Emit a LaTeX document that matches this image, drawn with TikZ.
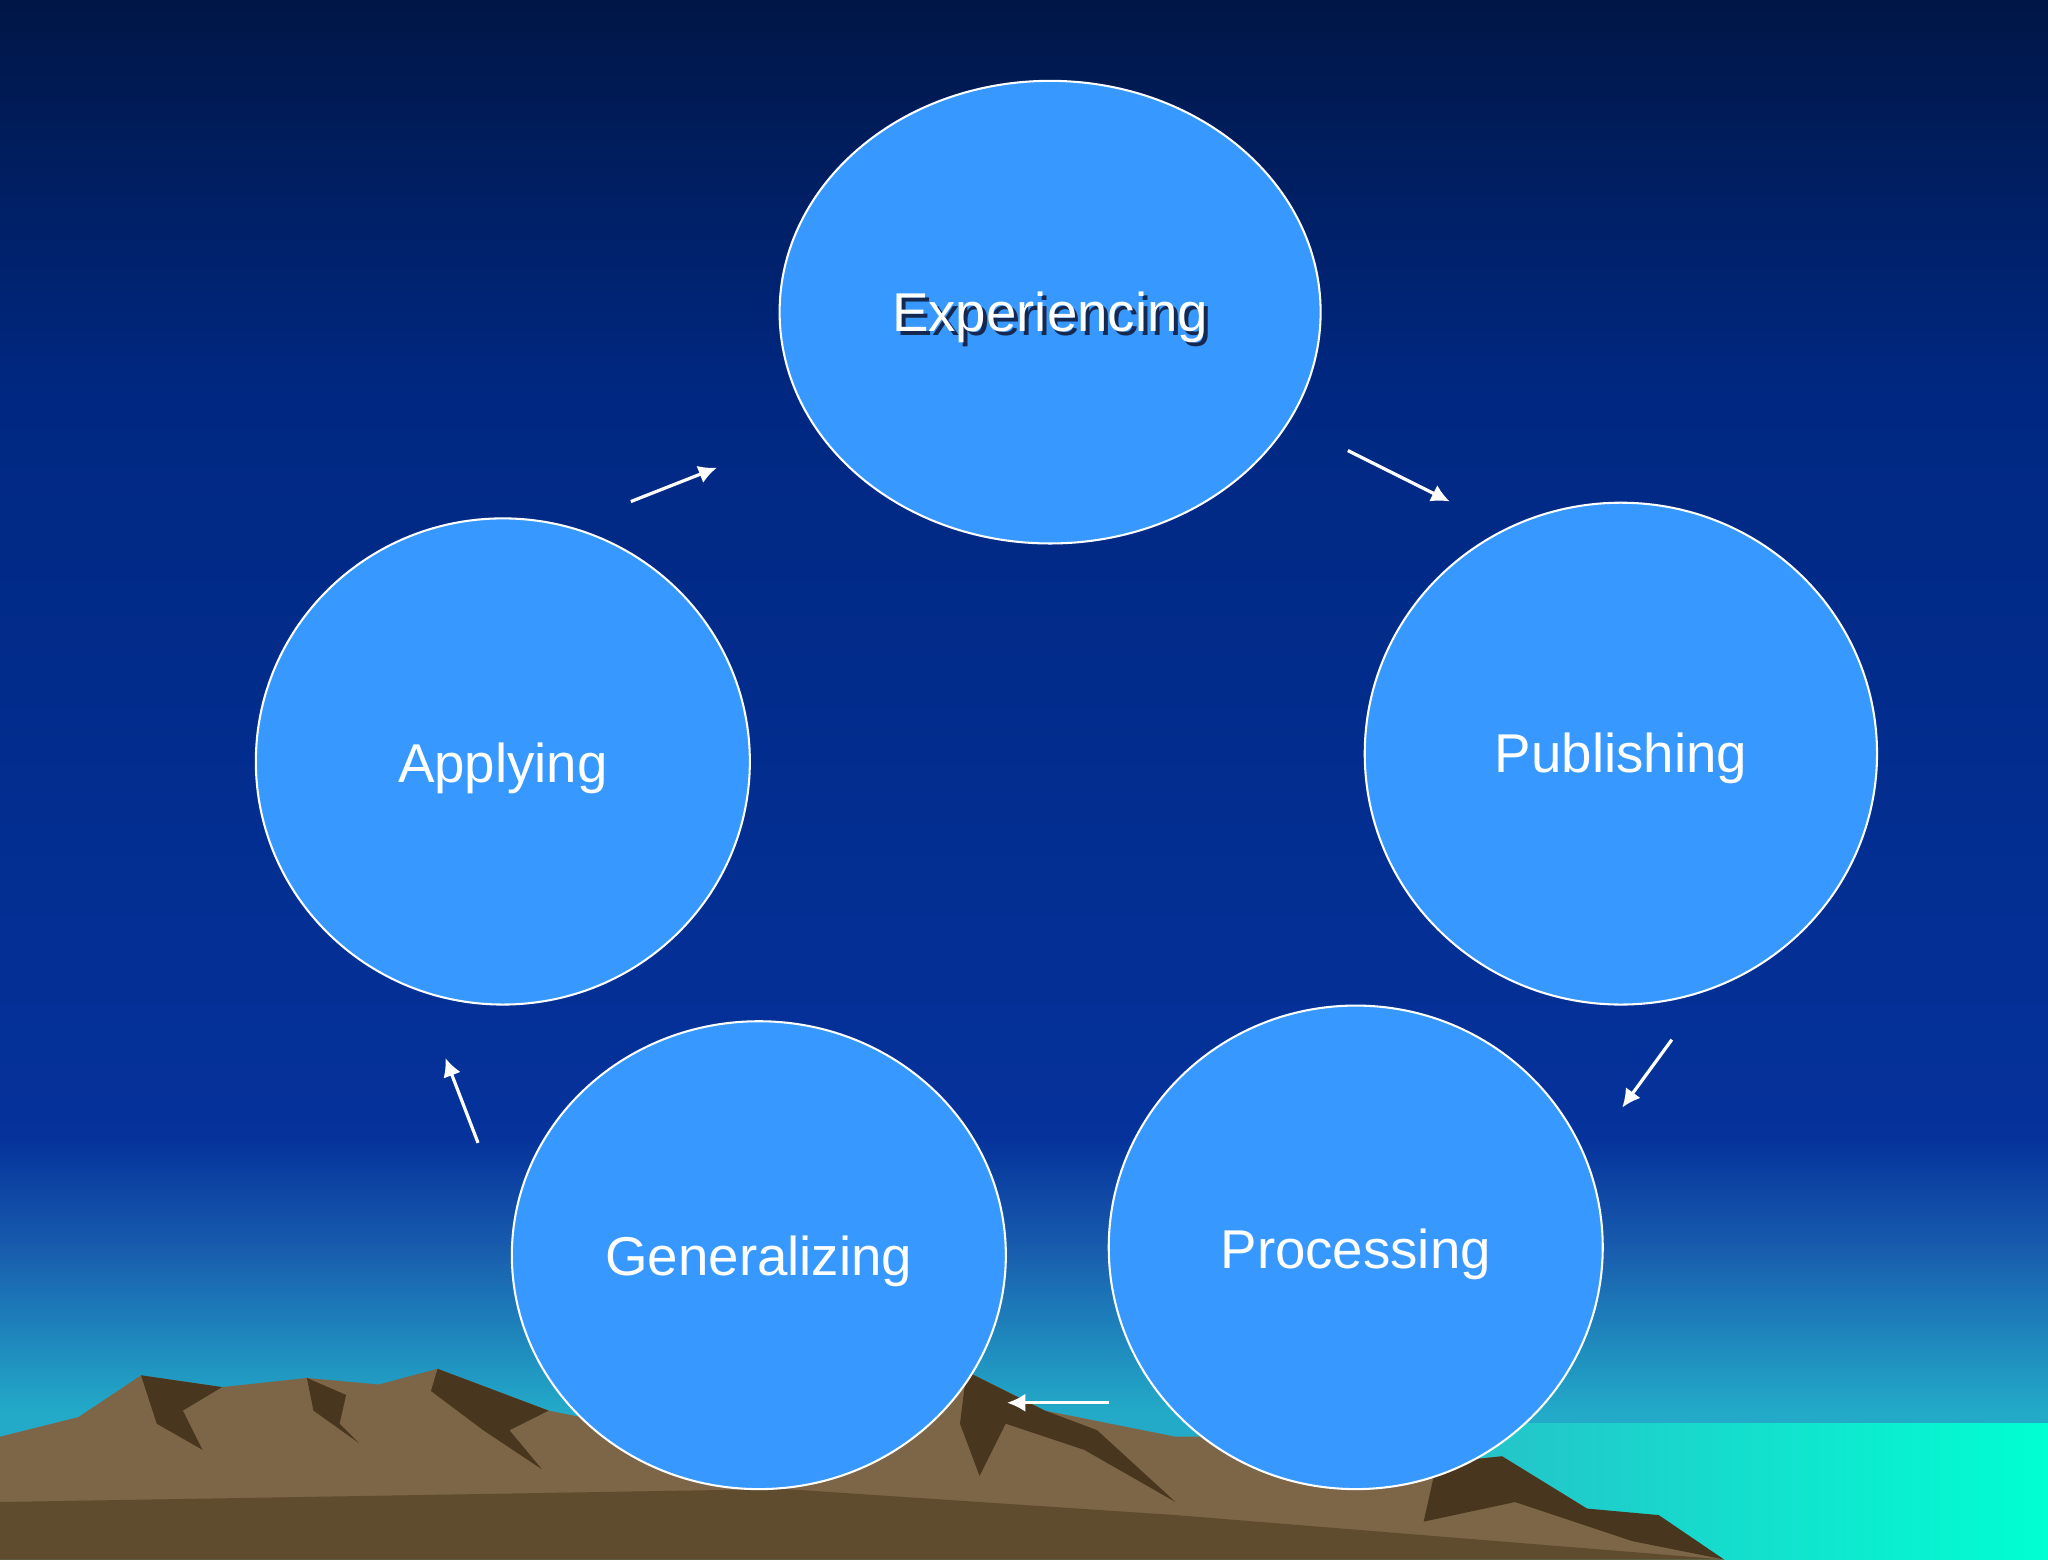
\documentclass[tikz,border=0pt]{standalone}
\usepackage{fontspec}
\setmainfont{Liberation Sans}
\usetikzlibrary{arrows.meta,shapes.geometric}
\definecolor{mtn}{RGB}{125,102,72}
\definecolor{mtnd}{RGB}{72,55,30}
\definecolor{mtnf}{RGB}{95,75,45}
\definecolor{seaA}{RGB}{40,190,200}
\definecolor{seaB}{RGB}{0,255,210}
\definecolor{bub}{RGB}{55,153,255}
\definecolor{shd}{RGB}{20,40,80}
\definecolor{s0}{RGB}{0,22,70}
\definecolor{s1}{RGB}{0,40,130}
\definecolor{s2}{RGB}{5,50,155}
\definecolor{s3}{RGB}{25,95,175}
\definecolor{s4}{RGB}{35,170,200}
\begin{document}
\begin{tikzpicture}[x=0.01cm,y=-0.01cm,
 stage/.style={draw=white,line width=0.45pt,fill=bub,ellipse,inner sep=0pt},
 lbl/.style={text=white,font=\fontsize{11.9pt}{14pt}\selectfont},
 arr/.style={draw=white,line width=0.7pt,-{Latex[length=4pt,width=4pt]}}]
\useasboundingbox (0,0) rectangle (1568,1194);
\shade[top color=s0,bottom color=s1] (0,0) rectangle (1568,301);
\shade[top color=s1,bottom color=s2] (0,300) rectangle (1568,871);
\shade[top color=s2,bottom color=s3] (0,870) rectangle (1568,961);
\shade[top color=s3,bottom color=s4] (0,960) rectangle (1568,1081);
\fill[s4] (0,1080) rectangle (1568,1194);
\shade[left color=seaA,right color=seaB] (1100,1090) rectangle (1568,1194);
\fill[mtn] (0,1100) -- (60,1085) -- (108,1053) -- (170,1062) -- (235,1055) -- (290,1060) -- (335,1048) -- (420,1080) -- (470,1090) -- (700,1060) -- (740,1050) -- (800,1080) -- (900,1100) -- (1000,1100) -- (1100,1120) -- (1150,1115) -- (1215,1155) -- (1320,1194) -- (0,1194) -- cycle;
\fill[mtnd] (108,1053) -- (170,1062) -- (140,1080) -- (155,1110) -- (120,1090) -- cycle;
\fill[mtnd] (235,1055) -- (265,1068) -- (260,1090) -- (275,1105) -- (240,1080) -- cycle;
\fill[mtnd] (335,1048) -- (420,1080) -- (390,1095) -- (415,1125) -- (370,1095) -- (330,1065) -- cycle;
\fill[mtnd] (740,1050) -- (800,1080) -- (840,1095) -- (900,1150) -- (830,1110) -- (770,1090) -- (750,1130) -- (735,1090) -- cycle;
\fill[mtnd] (1100,1120) -- (1150,1115) -- (1215,1155) -- (1270,1160) -- (1320,1194) -- (1250,1180) -- (1160,1150) -- (1090,1165) -- cycle;
\fill[mtnf] (0,1150) -- (600,1140) -- (900,1160) -- (1320,1194) -- (0,1194) -- cycle;
\node[stage,minimum width=4.14cm,minimum height=3.54cm] (exp) at (804,239) {};
\node[stage,minimum width=3.92cm,minimum height=3.84cm] (pub) at (1241,577) {};
\node[stage,minimum width=3.78cm,minimum height=3.70cm] (pro) at (1038,955) {};
\node[stage,minimum width=3.78cm,minimum height=3.58cm] (gen) at (581,961) {};
\node[stage,minimum width=3.78cm,minimum height=3.72cm] (app) at (385,583) {};
\node[lbl,text=shd] at ([xshift=0.03cm,yshift=-0.07cm]exp.center) {Experiencing};
\node[lbl] (te) at ([yshift=-0.04cm]exp.center) {Experiencing};
\node[lbl] at ([yshift=-0.04cm]pub.center) {Publishing};
\node[lbl] at ([yshift=-0.05cm]pro.center) {Processing};
\node[lbl] at ([yshift=-0.05cm]gen.center) {Generalizing};
\node[lbl] at ([yshift=-0.05cm]app.center) {Applying};
\coordinate (a1) at (1032,345); \coordinate (b1) at (1110,384);
\coordinate (a2) at (1280,796); \coordinate (b2) at (1242,848);
\coordinate (a3) at (849,1074); \coordinate (b3) at (771,1074);
\coordinate (a4) at (366,875); \coordinate (b4) at (341,810);
\coordinate (a5) at (483,384); \coordinate (b5) at (549,358);
\draw[arr] (a1) -- (b1);
\draw[arr] (a2) -- (b2);
\draw[arr] (a3) -- (b3);
\draw[arr] (a4) -- (b4);
\draw[arr] (a5) -- (b5);
\end{tikzpicture}
\end{document}
